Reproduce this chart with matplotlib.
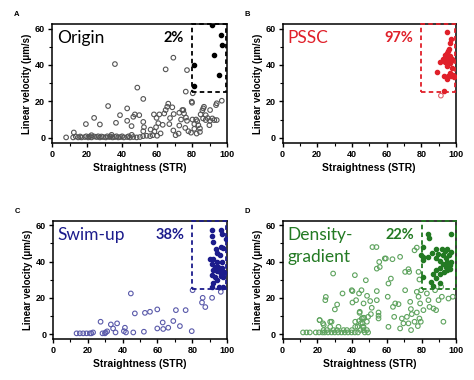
import matplotlib
matplotlib.use('Agg')
import matplotlib.pyplot as plt
from matplotlib.patches import Rectangle

plt.rcParams['font.family'] = ['Liberation Sans', 'DejaVu Sans']

# PANEL A - ORIGIN

a_open_x = [8, 12, 12.4, 13.5, 14.9, 16, 16.8, 18.7, 19.5, 20.6, 21.5, 22.5, 22.5, 24, 25.4, 26.3, 27.3,
            28.2, 29.2, 30.7, 31.5, 32.7, 33.5, 34, 34.6, 35.9, 36.8, 37.8, 39.1, 40, 41, 42.9, 43.7,
            44.5, 45.5, 46.4, 48.3, 50.2, 52, 54, 56, 57.5, 60, 62, 58.5,
            35.9, 69.3, 64.9, 77.1, 48.7, 52.1, 32, 42.9, 24, 19.3, 27.3, 36.5, 38.8, 42.9, 45.4,
            46.4, 47.3, 49.8, 52.1, 52.5, 52.1, 56.3, 58.2, 59.7, 61.3, 60.7, 59.4, 63.2, 64.1,
            64.9, 65.8, 66.4, 68.7, 69.5, 67.4, 67, 69.3, 70.6, 72.3, 72.7, 73.7, 75.4, 74.4, 76.5,
            77.1, 76.1, 77.9, 79.4, 81.3, 81.3, 80.2, 80, 80.4, 76.4, 82.3, 83.6, 84.5, 84.9, 85.9,
            86.8, 86.3, 87.8, 87.8, 88.9, 90.3, 89.9, 91.6, 92.7, 94.1, 90.3, 93.7, 97, 94.1, 86.4,
            83, 84.5, 82.6, 72.7, 75, 79.8]
a_open_y = [0.3, 0.3, 3, 0.8, 0.3, 0.8, 0.3, 0.5, 0.9, 0.3, 0.8, 0.3, 1.5, 0.8, 0.5, 0.9, 0.3,
            0.8, 0.5, 0.3, 0.9, 0.5, 0.8, 1.7, 0.3, 0.5, 0.9, 0.3, 0.5, 0.9, 0.3, 0.5, 0.9,
            0.3, 1.7, 0.5, 0.3, 0.5, 1.0, 1.2, 1.0, 1.5, 1.2, 2.5, 3.5,
            40.5, 44, 37.6, 37.2, 27.6, 21.4, 17.5, 16.2, 11, 7.6, 7.4, 8.3, 12.5, 9.4, 6.5,
            11.6, 12.9, 12.5, 8.8, 5.9, 3.7, 4.6, 12.9, 11, 12.9, 8.1, 5.9, 7.2, 13.4,
            15.3, 17.1, 18.8, 16.8, 13.1, 10.9, 7.6, 4.1, 1.5, 2.4, 6.8, 10.1, 13.4, 15.3, 11.2,
            9.4, 5.5, 3.7, 2.9, 5, 7.6, 10.1, 19.3, 24.5, 25.4, 10.1, 7, 5.2, 12.9, 15.1,
            17.1, 10.7, 12.5, 9.8, 10.9, 9.4, 7, 10.7, 9.8, 9.8, 15.3, 18, 20.4, 19, 16.2,
            9.2, 3.3, 2.4, 13.8, 15.3, 19.9]
a_fill_x = [91.2, 96.4, 97, 92.6, 81.1, 95.6, 81.1]
a_fill_y = [62, 56.7, 51.2, 45.5, 39.8, 34.6, 28.6]

# PANEL B - PSSC

b_fill_x = [94.6, 96.9, 96.5, 96.1, 94.6, 93.6, 96.5, 95.6, 97.5, 92.3, 90.8, 93.6, 96.5, 94.6, 97.5,
            89.2, 96.5, 98.1, 95.6, 94.6, 98.8, 93.3, 95, 94, 97, 95.5, 93, 97, 99]
b_fill_y = [58, 54.4, 51.8, 48.8, 46.6, 45.7, 45.1, 43.9, 43.3, 43.3, 41.4, 41.4, 41.1, 39.6, 38.3,
            35.9, 35.6, 34.6, 33.7, 32.3, 33.5, 25.8, 44.5, 42.5, 42, 47.5, 34, 33.8, 34]
b_open_x = [91.3]
b_open_y = [23.2]

# PANEL C - SWIM-UP

c_open_x = [13.5, 15.4, 17.3, 19.2, 21.1, 22, 23, 28.4, 29.8, 30.2, 31.1, 27.3, 33.2, 34.5, 36.8,
            35.9, 41.3, 40.7, 41.9, 44.7, 46.1, 47, 52.8, 52.2, 55.7, 59.9, 59.9, 63, 63.3, 66.2,
            69.1, 70.6, 72.9, 76.2, 79.7, 80.2, 86, 85.6, 87.5, 91.4, 96.4]
c_open_y = [0.4, 0.4, 0.4, 0.4, 0.4, 0.4, 0.9, 0.4, 0.4, 0.9, 1.5, 6.8, 5.3, 3.1, 5.9,
            0.9, 3.5, 1.6, 0.9, 22.4, 0.9, 11.4, 11.7, 1.3, 12.3, 13.6, 3.1, 6.4, 2.8, 3.5,
            7.2, 13.2, 4.4, 13.2, 1.6, 24.2, 20, 17.4, 14.9, 20, 23.3]
c_fill_x = [91.5, 96.4, 97.3, 91.5, 92.1, 99.3, 96.5, 97.9, 93.5, 94.1, 96, 90.2, 92.1, 94.1, 91.5,
            96.9, 93.1, 95, 92.1, 94.1, 97.3, 96, 98.3, 91.2, 93.1, 96.4, 97.9, 94.1, 92.1, 91.2,
            95.4, 97.9]
c_fill_y = [57.2, 57.2, 55.4, 54.1, 50.8, 52.3, 48, 47.7, 47.1, 45, 43.5, 41.3, 41.3, 39.8, 38.9,
            39.8, 37, 37, 35.2, 34.7, 36.2, 34, 34, 32.5, 31.5, 32.1, 31.5, 29.7, 27.9, 26,
            26, 26]

# PANEL D - DENSITY-GRADIENT

d_open_x = [11.8, 13.8, 15.7, 19.1, 21, 23, 24.3, 26.2, 28.2, 30, 32, 33.9, 35.8, 37.7, 39.7, 41.6,
            43.4, 47.3, 49.2, 23.6, 25.5, 29.3, 31.3, 35.1, 37, 39.9, 44.7, 46.6, 48.5, 27.4, 32.2,
            41.8, 43.1, 46.2,
            21.4, 24.9, 24.6, 31.4, 30.1, 34.5, 29.1, 41.6, 40.2, 40.2, 44, 45.4, 48.6, 47.9, 51.7,
            44.4, 44, 46.3, 49.2, 46, 23.3, 28.2, 21.3, 23.7, 27.4, 39.8, 42.3, 46.6, 50.4, 51.3,
            44.3, 45.6, 46.9, 41.8, 45, 48.5, 46.6, 50.8, 55.2, 55.2, 55.2, 54.2, 54.2, 54.2, 55.6,
            59.4, 63.2, 67.6, 60.5, 60.9, 62.3, 64.8, 63.5, 64.2, 60.9, 66.7, 68.6, 69.5, 67.6, 70.5,
            72.4, 72.8, 70.5, 73.4, 73.8, 74.3, 71.5, 72.4, 73.9, 75.9, 77.8, 77.2, 78.7, 79.5, 79.1,
            78.2, 77.2, 75.9, 77.2, 78.2, 78.7, 79.7, 83, 83.9, 86.8, 88.3, 89.7, 91.6, 95.4, 97.9,
            92.5, 84.5, 81, 87.7, 91.2, 54, 55.9, 58.8]
d_open_y = [0.9, 0.9, 0.9, 0.9, 0.9, 0.9, 0.9, 0.9, 0.9, 0.9, 0.9, 0.9, 0.9, 0.9, 0.9, 0.9,
            0.9, 0.9, 0.9, 2.2, 2.2, 2.2, 2.2, 2.2, 2.2, 2.2, 2.2, 2.2, 2.2, 4, 4,
            4, 4, 4,
            7.7, 20.5, 18.7, 16.3, 13.6, 22.4, 33.4, 32.5, 23.7, 17.4, 22.4, 24.2, 21.1, 29.7, 48,
            12.3, 7.2, 9, 9.5, 5.9, 5.9, 6.8, 7.7, 5, 6.8, 24.2, 18.7, 16.9, 18.2, 14.5,
            11.7, 8.6, 9, 6.8, 5.9, 6.8, 4, 11, 11.9, 10.1, 8.6, 23.7, 18.7, 36.1, 39.8,
            41.7, 41.3, 42.6, 20.6, 27.9, 30.6, 16.9, 15, 9.5, 4, 16.5, 8.6, 5.9, 3.1, 34.3,
            35.8, 34.3, 24.2, 17.8, 13.8, 11, 9.5, 5.9, 2.2, 6.8, 4.4, 11.9, 8.6, 6.8, 16.9,
            20.6, 23.3, 46.2, 47.7, 34.3, 30.1, 24.2, 22.4, 18.7, 14.1, 13.2, 18.7, 20.6, 19.6, 20.6,
            6.8, 15, 13.2, 24.2, 26.1, 48, 37, 41.7]
d_fill_x = [83.7, 84.3, 96.6, 88.5, 91.4, 94.6, 93.3, 97.1, 86.2, 89.4, 92, 95.6, 80.8, 83.7, 88.5,
            93.9, 80.8, 90.8, 94.6, 97.1, 92.3, 96.2, 93.9, 90.4, 96.2, 88.5, 94.3, 92.7, 86.6, 90.8,
            80.8, 88.5, 85.6, 90.4, 86.6, 81, 79.7]
d_fill_y = [55.4, 53, 55.4, 47.2, 47.2, 47.2, 45.7, 45.3, 45, 44.4, 43.5, 43.5, 42.5, 42.5, 41.7,
            41.7, 40.7, 40.2, 39.8, 39.8, 38.4, 38, 37, 36.5, 35.9, 35.2, 35.2, 34, 33.4, 32.9,
            31.5, 31, 28.8, 27.9, 26.6, 48, 43.5]

# DRAW ONE PANEL


def draw_panel(ax, letter, open_x, open_y, fill_x, fill_y, color, open_color,
               name, pct, name2=None):
    ax.scatter(open_x, open_y, s=11, facecolors='none', edgecolors=open_color,
               linewidths=0.8, zorder=3)
    ax.scatter(fill_x, fill_y, s=9, color=color, zorder=4)

    # dashed box marking the fast straight cells
    ax.add_patch(Rectangle((80, 25), 19.6, 37.5, fill=False, edgecolor=color,
                           linestyle=(0, (2.5, 1.8)), linewidth=1.3, zorder=5,
                           clip_on=False))

    ax.set_xlim(0, 100)
    ax.set_ylim(-2.7, 62.5)
    ax.set_xticks([0, 20, 40, 60, 80, 100])
    ax.set_xticks([10, 30, 50, 70, 90], minor=True)
    ax.set_yticks([0, 20, 40, 60])
    ax.set_yticks([10, 30, 50], minor=True)
    ax.tick_params(which='major', length=3, width=1, labelsize=6.5, pad=2)
    ax.tick_params(which='minor', length=2, width=0.8)
    for lab in ax.get_xticklabels() + ax.get_yticklabels():
        lab.set_fontweight('bold')
    for sp in ax.spines.values():
        sp.set_linewidth(1.1)

    ax.set_xlabel('Straightness (STR)', fontsize=7.5, fontweight='bold', labelpad=3)
    ax.set_ylabel('Linear velocity (\u03bcm/s)', fontsize=7, fontweight='bold', labelpad=2)

    ax.text(0.027, 0.84, name, transform=ax.transAxes, fontsize=12.5, color=color,
            family=['Lato', 'DejaVu Sans'], va='baseline')
    if name2:
        ax.text(0.027, 0.655, name2, transform=ax.transAxes, fontsize=12.5, color=color,
                family=['Lato', 'DejaVu Sans'], va='baseline')
    ax.text(0.755, 0.85, pct, transform=ax.transAxes, fontsize=10.5, color=color,
            fontweight='bold', family=['Lato', 'DejaVu Sans'], ha='right', va='baseline')

    ax.text(-0.22, 1.07, letter, transform=ax.transAxes, fontsize=5.5, fontweight='bold')


fig = plt.figure(figsize=(4.74, 3.8), dpi=100)

ax_a = fig.add_axes([0.110, 0.624, 0.369, 0.313])
ax_b = fig.add_axes([0.596, 0.624, 0.366, 0.313])
ax_c = fig.add_axes([0.112, 0.108, 0.367, 0.311])
ax_d = fig.add_axes([0.596, 0.108, 0.367, 0.311])

draw_panel(ax_a, 'A', a_open_x, a_open_y, a_fill_x, a_fill_y, 'black', '#555555',
           'Origin', '2%')
draw_panel(ax_b, 'B', b_open_x, b_open_y, b_fill_x, b_fill_y, '#e0202a', '#e0606a',
           'PSSC', '97%')
draw_panel(ax_c, 'C', c_open_x, c_open_y, c_fill_x, c_fill_y, '#1c1c8c', '#5a5aaa',
           'Swim-up', '38%')
draw_panel(ax_d, 'D', d_open_x, d_open_y, d_fill_x, d_fill_y, '#237a23', '#5ea35e',
           'Density-', '22%', name2='gradient')

plt.savefig('out.png', dpi=100)
plt.close()
